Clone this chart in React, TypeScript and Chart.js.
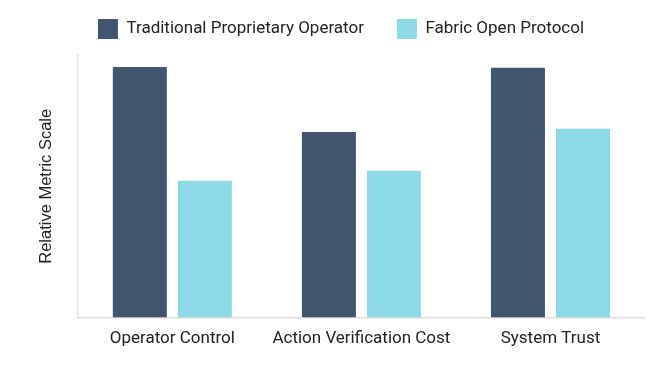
import React, { useEffect, useRef } from "react";
import { Chart, registerables } from "chart.js";

Chart.register(...registerables);

const categories = ["Operator Control", "Action Verification Cost", "System Trust"];
const seriesNames = ["Traditional Proprietary Operator", "Fabric Open Protocol"];
const traditionalValues = [95.4, 70.7, 95.1];
const fabricValues = [52.1, 55.9, 71.9];
const yTitle = "Relative Metric Scale";

const FONT = "Roboto, 'Noto Sans', sans-serif";

const legendSpacer = {
  id: "legendSpacer",
  beforeLayout(chart: any) {
    const lg = chart.legend;
    if (lg && !lg._spacerPatched) {
      const orig = lg.fit;
      lg.fit = function () {
        orig.call(this);
        this.height += 6;
      };
      lg._spacerPatched = true;
    }
  },
};

export default function App() {
  const ref = useRef<HTMLCanvasElement | null>(null);
  useEffect(() => {
    if (!ref.current) return;
    const chart = new Chart(ref.current, {
      type: "bar",
      data: {
        labels: categories,
        datasets: [
          {
            label: seriesNames[0],
            data: traditionalValues,
            backgroundColor: "#41566e",
            categoryPercentage: 0.688,
            barPercentage: 0.83,
          },
          {
            label: seriesNames[1],
            data: fabricValues,
            backgroundColor: "#8dd9e6",
            categoryPercentage: 0.688,
            barPercentage: 0.83,
          },
        ],
      },
      plugins: [legendSpacer],
      options: {
        animation: false,
        responsive: true,
        maintainAspectRatio: false,
        layout: { padding: { left: 29, right: 13, top: -22, bottom: 5 } },
        plugins: {
          tooltip: { enabled: false },
          legend: {
            position: "top",
            labels: {
              boxWidth: 20,
              boxHeight: 20,
              padding: 33,
              color: "#222",
              font: { family: FONT, size: 17 },
            },
          },
        },
        scales: {
          x: {
            grid: { display: false },
            border: { display: true, color: "#dddddd", width: 1.5 },
            ticks: { color: "#222", font: { family: FONT, size: 17 }, padding: 3 },
          },
          y: {
            min: 0,
            max: 100,
            grid: { display: false },
            border: { display: true, color: "#e6e6e6", width: 1.5 },
            ticks: { display: false },
            title: {
              display: true,
              text: yTitle,
              color: "#222",
              font: { family: "'Liberation Sans', Arial, sans-serif", size: 16.5 },
              padding: { top: 0, bottom: 13 },
            },
          },
        },
      },
    });
    return () => chart.destroy();
  }, []);
  return (
    <div style={{ width: 650, height: 349 }}>
      <canvas ref={ref} />
    </div>
  );
}
